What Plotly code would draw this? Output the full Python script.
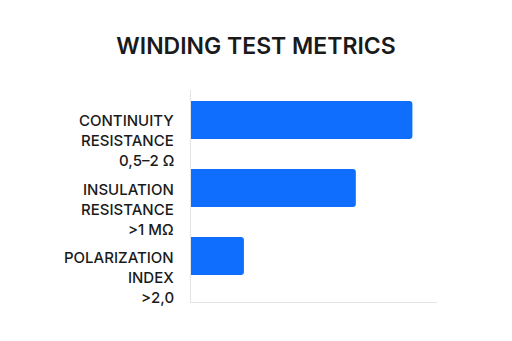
import plotly.graph_objects as go

# Winding test metrics: relative score per test
metric_names = ["CONTINUITY<br>RESISTANCE", "INSULATION<br>RESISTANCE", "POLARIZATION<br>INDEX"]
metric_ranges = ["0,5–2 Ω", ">1 MΩ", ">2,0"]
metric_keys = ["continuity", "insulation", "polarization"]
scores = [90, 67, 21.5]

BLUE = "#0f6efd"
TEXT = "#1a1a1a"
FONT = "Inter, 'Noto Sans', sans-serif"

fig = go.Figure(
    go.Bar(
        x=scores,
        y=metric_keys,
        orientation="h",
        marker=dict(color=BLUE, line=dict(width=0)),
        width=0.56,
        hoverinfo="skip",
    )
)

# Category labels: two-line name plus the acceptance range beneath
label_font = dict(family=FONT, size=15, color=TEXT, weight=500)
annotations = []
for key, name, rng in zip(metric_keys, metric_names, metric_ranges):
    for text, dy in ((name, -11), (rng, -41)):
        annotations.append(
            dict(
                text=text,
                x=0,
                xref="paper",
                xanchor="right",
                xshift=-16,
                y=key,
                yref="y",
                yanchor="middle",
                yshift=dy,
                borderpad=0,
                showarrow=False,
                align="right",
                font=label_font,
            )
        )

fig.update_layout(
    width=512,
    height=341,
    margin=dict(l=191, r=75, t=90, b=39),
    paper_bgcolor="white",
    plot_bgcolor="white",
    barcornerradius=3,
    showlegend=False,
    title=dict(
        text="WINDING TEST METRICS",
        x=0.5,
        xanchor="center",
        y=(341 - 46) / 341,
        yanchor="middle",
        font=dict(family=FONT, size=23, color=TEXT, weight=600),
    ),
    annotations=annotations,
    xaxis=dict(
        range=[0, 100],
        showgrid=False,
        zeroline=False,
        showticklabels=False,
        ticks="",
        showline=True,
        linecolor="#e4e4e4",
        linewidth=1,
        fixedrange=True,
    ),
    yaxis=dict(
        type="category",
        range=[2.676, -0.441],
        showgrid=False,
        zeroline=False,
        showticklabels=False,
        ticks="",
        showline=True,
        linecolor="#e4e4e4",
        linewidth=1,
        fixedrange=True,
    ),
)

fig.write_html("out.html", config={"displayModeBar": False})
